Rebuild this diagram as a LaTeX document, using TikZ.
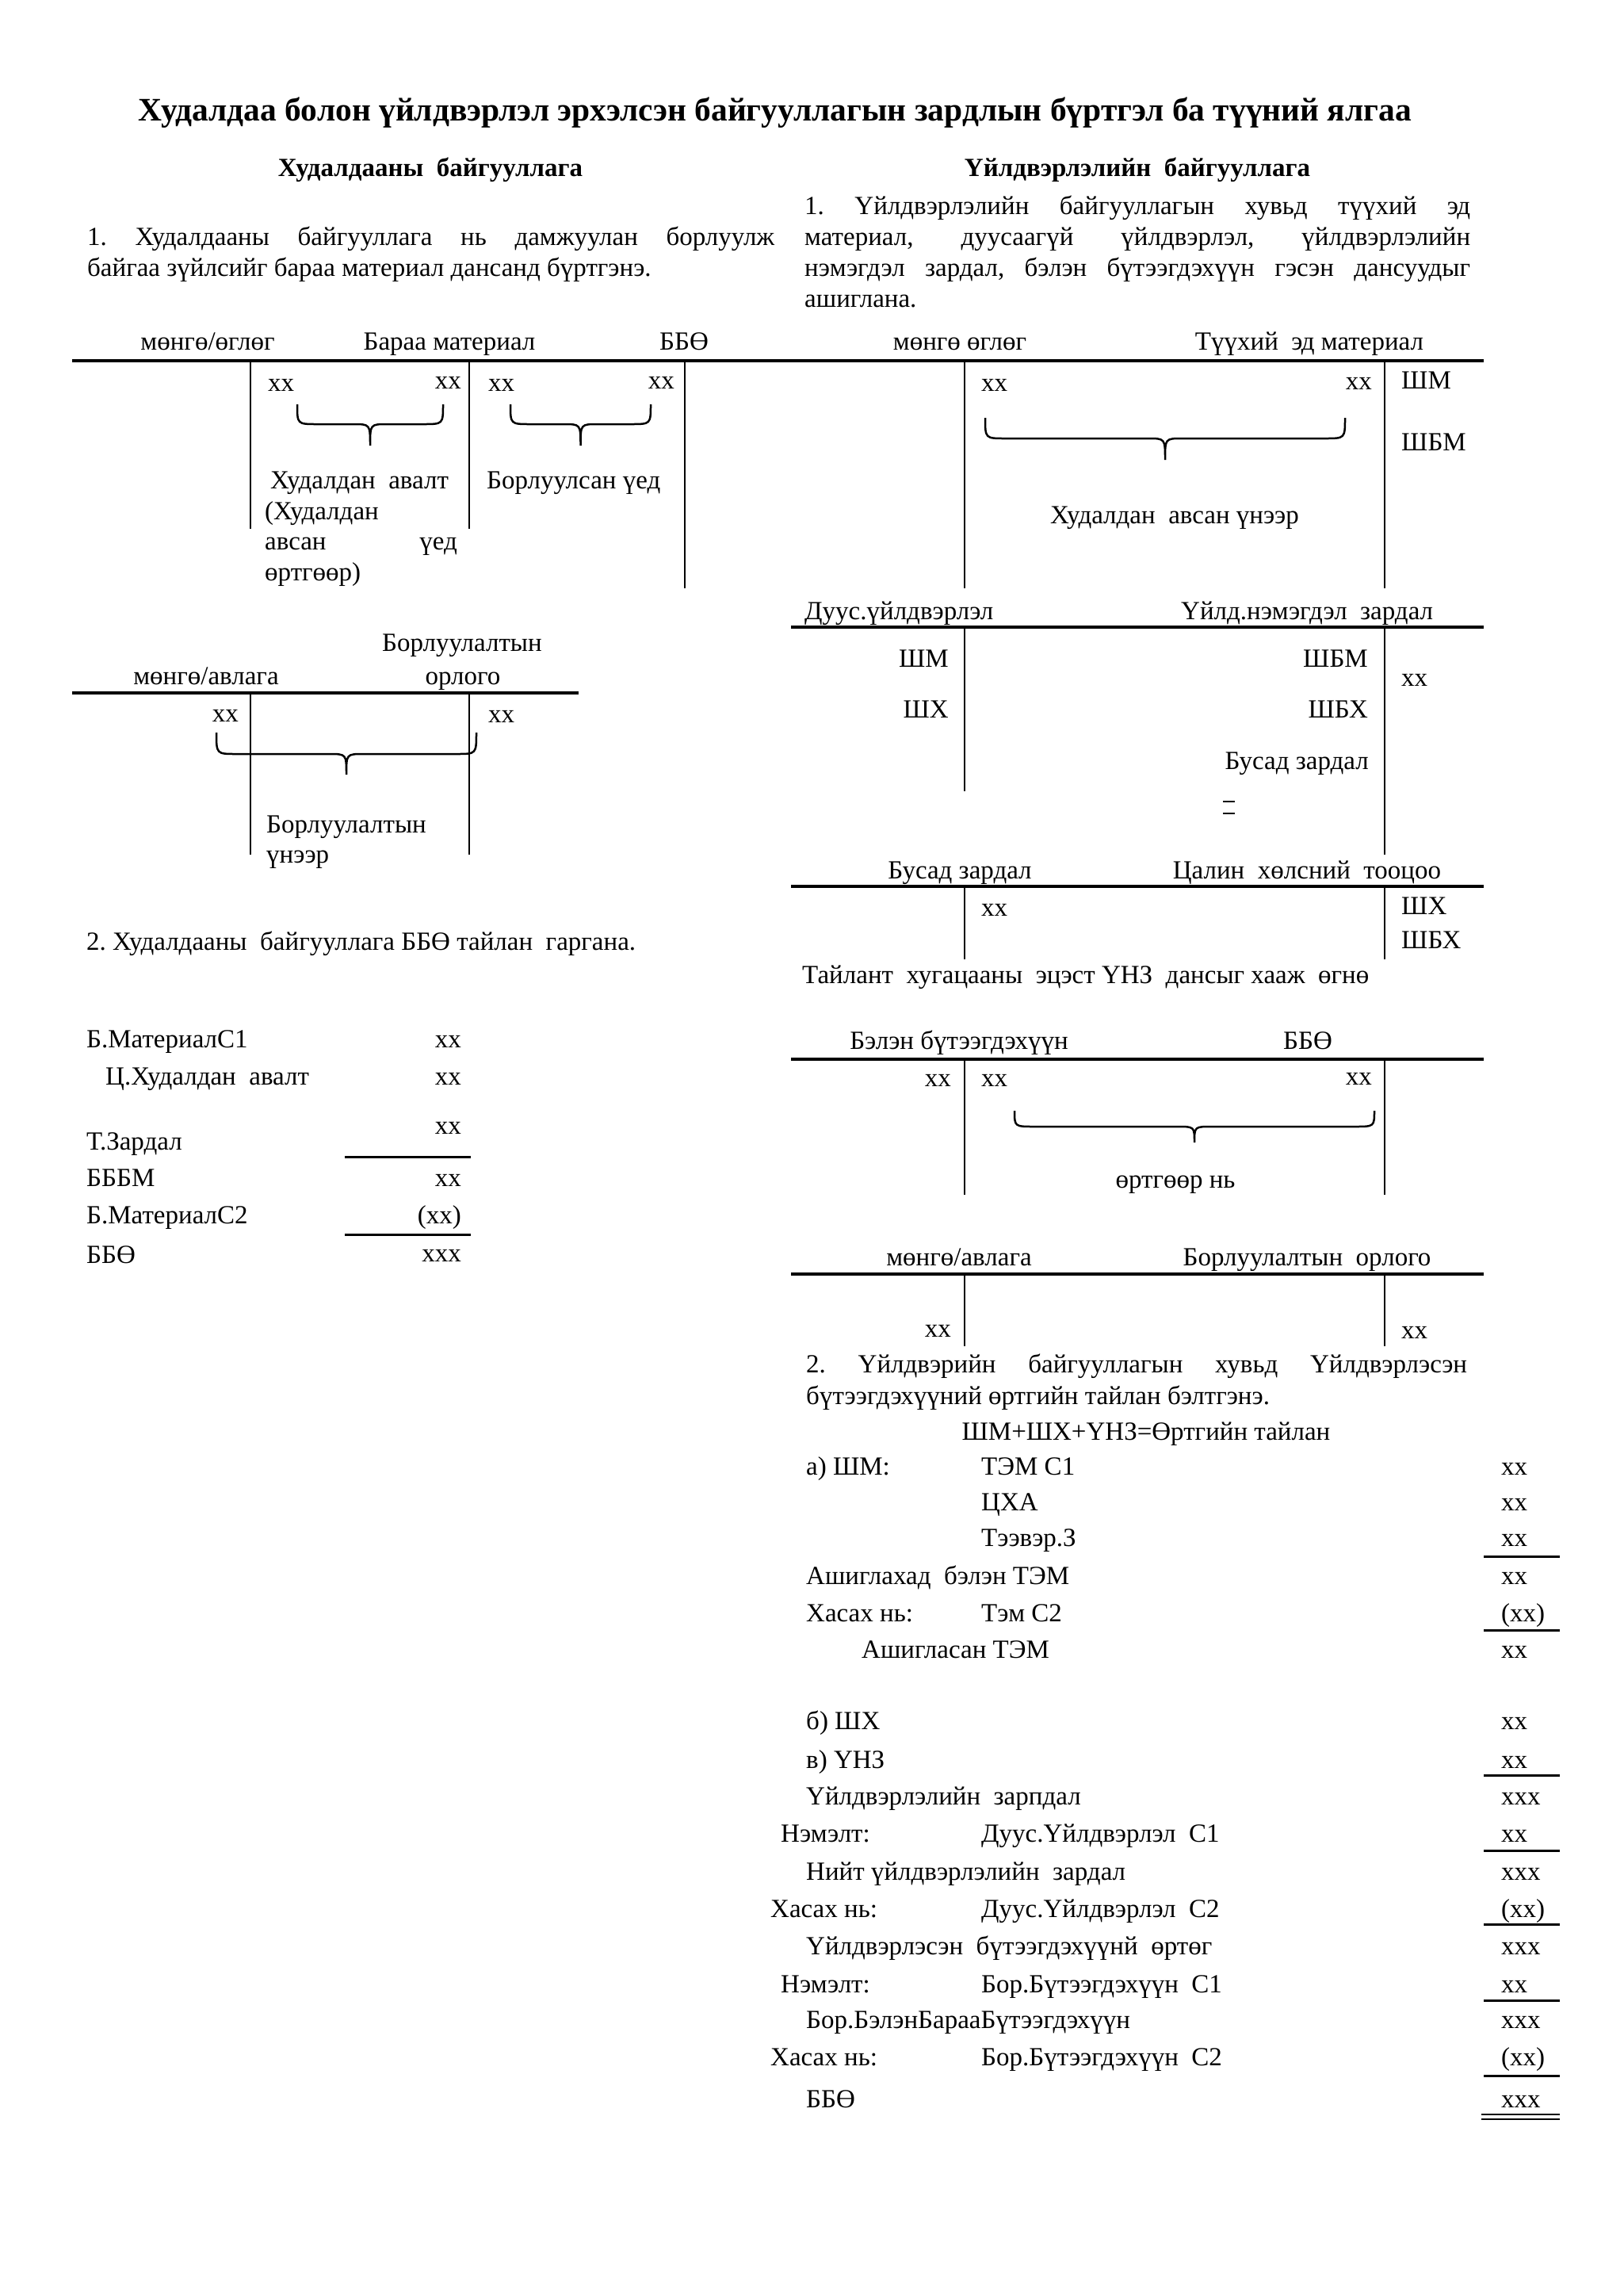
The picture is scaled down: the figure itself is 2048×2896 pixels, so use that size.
\documentclass[tikz,border=0pt]{standalone}
\usepackage{fontspec}
\setmainfont{Liberation Serif}
\frenchspacing
\newcommand\bodyfont{\fontsize{33}{38}\selectfont\frenchspacing}
\newcommand\titlefont{\fontsize{41.5}{47}\selectfont\bfseries}
\newcommand\txW[4]{\node[tt,anchor=west] (#1) at (#2,#3) {#4};}
\newcommand\txE[4]{\node[tt,anchor=east] (#1) at (#2,#3) {#4};}
\newcommand\txC[4]{\node[tt] (#1) at (#2,#3) {#4};}
\newcommand\mybrace[5]{%
  \pgfmathsetmacro\bxm{(#1+#2)/2}%
  \draw[brc] (#1,#3) .. controls (#1,#4) .. ({#1+25},#4) -- ({\bxm-22},#4)
    .. controls (\bxm,#4) .. (\bxm,#5) .. controls (\bxm,#4) .. ({\bxm+22},#4)
    -- ({#2-25},#4) .. controls (#2,#4) .. (#2,#3);}
\begin{document}
\begin{tikzpicture}[x=1pt,y=-1pt,
  tt/.style={inner sep=0pt, text height=23pt, text depth=7pt, font=\bodyfont},
  hl/.style={line width=3.2pt},
  vl/.style={line width=2.5pt},
  brc/.style={line width=2.5pt},
  ul/.style={line width=3pt}]
\useasboundingbox[fill=white] (0,0) rectangle (2048,2896);

% title and headers
\node[inner sep=0pt, font=\titlefont] (title) at (978,142) {Худалдаа болон үйлдвэрлэл эрхэлсэн байгууллагын зардлын бүртгэл ба түүний ялгаа};
\node[tt, font=\bodyfont\bfseries] (hL) at (543,214) {Худалдааны \ байгууллага};
\node[tt, font=\bodyfont\bfseries] (hR) at (1435,214) {Үйлдвэрлэлийн \ байгууллага};

% left paragraph 1
\txW{pL1}{110}{301}{\makebox[867pt][s]{1. Худалдааны байгууллага нь дамжуулан борлуулж}}
\txW{pL2}{110}{340}{байгаа зүйлсийг бараа материал дансанд бүртгэнэ.}

% right paragraph 1
\txW{pR1}{1015}{262}{\makebox[840pt][s]{1. Үйлдвэрлэлийн байгууллагын хувьд түүхий эд}}
\txW{pR2}{1015}{301}{\makebox[840pt][s]{материал, дуусаагүй үйлдвэрлэл, үйлдвэрлэлийн}}
\txW{pR3}{1015}{340}{\makebox[840pt][s]{нэмэгдэл зардал, бэлэн бүтээгдэхүүн гэсэн дансуудыг}}
\txW{pR4}{1015}{379}{ашиглана.}

% ===== left top T-accounts
\txC{a1}{262}{433}{мөнгө/өглөг}
\txC{a2}{567}{433}{Бараа материал}
\txC{a3}{863}{433}{ББӨ}
\draw[hl] (91,455) -- (1872,455);
\draw[vl] (316,456) -- (316,667);
\draw[vl] (592,456) -- (592,667);
\draw[vl] (864,456) -- (864,742);
\txW{a4}{338}{485}{xx}
\txE{a5}{582}{482}{xx}
\txW{a6}{616}{485}{xx}
\txE{a7}{851}{482}{xx}
\mybrace{375}{559}{510}{535}{562}
\mybrace{644}{821}{510}{535}{562}
\txW{a8}{341}{608}{Худалдан \ авалт}
\txW{a9}{334}{647}{(Худалдан}
\txW{a10}{334}{685}{авсан}
\txE{a11}{577}{685}{үед}
\txW{a12}{334}{724}{өртгөөр)}
\txW{a13}{614}{608}{Борлуулсан үед}

% ===== left second T-account
\txC{b1}{583}{813}{Борлуулалтын}
\txC{b2}{584}{855}{орлого}
\txC{b3}{260}{855}{мөнгө/авлага}
\draw[hl] (91,874) -- (730,874);
\draw[vl] (316,873) -- (316,1078);
\draw[vl] (592,873) -- (592,1078);
\txE{b4}{301}{902}{xx}
\txW{b5}{616}{903}{xx}
\mybrace{273}{601}{924}{951}{977}
\txW{b6}{336}{1042}{Борлуулалтын}
\txW{b7}{336}{1080}{үнээр}

\txW{c0}{109}{1190}{2. Худалдааны \ байгууллага ББӨ тайлан \ гаргана.}

% left report
\txW{c1}{109}{1313}{Б.МатериалС1}
\txW{c2}{133}{1360}{Ц.Худалдан \ авалт}
\txW{c3}{109}{1442}{Т.Зардал}
\txW{c4}{109}{1488}{БББМ}
\txW{c5}{109}{1535}{Б.МатериалС2}
\txW{c6}{109}{1585}{ББӨ}
\txE{c7}{582}{1313}{xx}
\txE{c8}{582}{1360}{xx}
\txE{c9}{582}{1422}{xx}
\txE{c10}{582}{1488}{xx}
\txE{c11}{582}{1535}{(xx)}
\txE{c12}{582}{1583}{xxx}
\draw[ul] (435,1459) -- (594,1459);
\draw[ul] (435,1557) -- (594,1557);

% ===== right T1
\txC{d1}{1211}{433}{мөнгө өглөг}
\txC{d2}{1652}{433}{Түүхий \ эд материал}
\draw[vl] (1217,456) -- (1217,742);
\draw[vl] (1747,456) -- (1747,742);
\txW{d3}{1238}{485}{xx}
\txE{d4}{1731}{483}{xx}
\txW{d5}{1768}{482}{ШМ}
\txW{d6}{1768}{560}{ШБМ}
\mybrace{1243}{1697}{527}{553}{580}
\txC{d7}{1482}{652}{Худалдан \ авсан үнээр}

% right T2
\txW{e1}{1015}{773}{Дуус.үйлдвэрлэл}
\txW{e2}{1490}{773}{Үйлд.нэмэгдэл \ зардал}
\draw[hl] (998,791) -- (1872,791);
\draw[vl] (1217,790) -- (1217,998);
\draw[vl] (1747,790) -- (1747,1078);
\txE{e3}{1197}{833}{ШМ}
\txE{e4}{1197}{897}{ШХ}
\txE{e5}{1726}{833}{ШБМ}
\txE{e6}{1726}{897}{ШБХ}
\txE{e7}{1727}{962}{Бусад зардал}
\txW{e8}{1768}{857}{xx}
\draw[line width=2pt] (1543,1011) -- (1558,1011);
\draw[line width=2pt] (1543,1026) -- (1558,1026);

% right T3
\txC{f1}{1211}{1100}{Бусад зардал}
\txC{f2}{1649}{1100}{Цалин \ хөлсний \ тооцоо}
\draw[hl] (998,1118) -- (1872,1118);
\draw[vl] (1217,1117) -- (1217,1210);
\draw[vl] (1747,1117) -- (1747,1210);
\txW{f3}{1238}{1147}{xx}
\txW{f4}{1768}{1145}{ШХ}
\txW{f5}{1768}{1188}{ШБХ}
\txW{f6}{1012}{1232}{Тайлант \ хугацааны \ эцэст ҮНЗ \ дансыг хааж \ өгнө}

% right T4
\txC{g1}{1210}{1315}{Бэлэн бүтээгдэхүүн}
\txC{g2}{1650}{1315}{ББӨ}
\draw[hl] (998,1336) -- (1872,1336);
\draw[vl] (1217,1335) -- (1217,1507);
\draw[vl] (1747,1335) -- (1747,1507);
\txE{g3}{1200}{1362}{xx}
\txW{g4}{1238}{1362}{xx}
\txE{g5}{1731}{1360}{xx}
\mybrace{1280}{1734}{1401}{1421}{1441}
\txC{g6}{1483}{1490}{өртгөөр нь}

% right T5
\txC{h1}{1210}{1588}{мөнгө/авлага}
\txC{h2}{1649}{1588}{Борлуулалтын \ орлого}
\draw[hl] (998,1607) -- (1872,1607);
\draw[vl] (1217,1606) -- (1217,1698);
\draw[vl] (1747,1606) -- (1747,1698);
\txE{h3}{1200}{1678}{xx}
\txW{h4}{1768}{1680}{xx}

% right report
\txW{r0}{1017}{1723}{\makebox[834pt][s]{2. Үйлдвэрийн байгууллагын хувьд Үйлдвэрлэсэн}}
\txW{r1}{1017}{1763}{бүтээгдэхүүний өртгийн тайлан бэлтгэнэ.}
\txC{r2}{1446}{1808}{ШМ+ШХ+ҮНЗ=Өртгийн тайлан}

\txW{s1}{1017}{1852}{а) ШМ:}
\txW{s1m}{1238}{1852}{ТЭМ С1}
\txW{s1n}{1894}{1852}{xx}
\txW{s2m}{1238}{1897}{ЦХА}
\txW{s2n}{1894}{1897}{xx}
\txW{s3m}{1238}{1942}{Тээвэр.З}
\txW{s3n}{1894}{1942}{xx}
\draw[ul] (1872,1963) -- (1968,1963);
\txW{s4}{1017}{1990}{Ашиглахад \ бэлэн ТЭМ}
\txW{s4n}{1894}{1990}{xx}
\txW{s5}{1017}{2037}{Хасах нь:}
\txW{s5m}{1238}{2037}{Тэм С2}
\txW{s5n}{1894}{2037}{(xx)}
\draw[ul] (1872,2056) -- (1968,2056);
\txW{s6}{1087}{2083}{Ашигласан ТЭМ}
\txW{s6n}{1894}{2083}{xx}

\txW{s7}{1017}{2173}{б) ШХ}
\txW{s7n}{1894}{2173}{xx}
\txW{s8}{1017}{2222}{в) ҮНЗ}
\txW{s8n}{1894}{2222}{xx}
\draw[ul] (1872,2239) -- (1968,2239);
\txW{s9}{1017}{2268}{Үйлдвэрлэлийн \ зарпдал}
\txW{s9n}{1894}{2268}{xxx}
\txW{s10}{985}{2315}{Нэмэлт:}
\txW{s10m}{1238}{2315}{Дуус.Үйлдвэрлэл \ С1}
\txW{s10n}{1894}{2315}{xx}
\draw[ul] (1872,2334) -- (1968,2334);
\txW{s11}{1017}{2363}{Нийт үйлдвэрлэлийн \ зардал}
\txW{s11n}{1894}{2363}{xxx}
\txW{s12}{972}{2410}{Хасах нь:}
\txW{s12m}{1238}{2410}{Дуус.Үйлдвэрлэл \ С2}
\txW{s12n}{1894}{2410}{(xx)}
\draw[ul] (1872,2427) -- (1968,2427);
\txW{s13}{1017}{2457}{Үйлдвэрлэсэн \ бүтээгдэхүүнй \ өртөг}
\txW{s13n}{1894}{2457}{xxx}
\txW{s14}{985}{2505}{Нэмэлт:}
\txW{s14m}{1238}{2505}{Бор.Бүтээгдэхүүн \ С1}
\txW{s14n}{1894}{2505}{xx}
\draw[ul] (1872,2523) -- (1968,2523);
\txW{s15}{1017}{2550}{Бор.БэлэнБарааБүтээгдэхүүн}
\txW{s15n}{1894}{2550}{xxx}
\txW{s16}{972}{2597}{Хасах нь:}
\txW{s16m}{1238}{2597}{Бор.Бүтээгдэхүүн \ С2}
\txW{s16n}{1894}{2597}{(xx)}
\draw[ul] (1872,2618) -- (1968,2618);
\txW{s17}{1017}{2650}{ББӨ}
\txW{s17n}{1894}{2650}{xxx}
\draw[line width=2pt] (1869,2667) -- (1968,2667);
\draw[line width=2pt] (1869,2673) -- (1968,2673);
\end{tikzpicture}
\end{document}
